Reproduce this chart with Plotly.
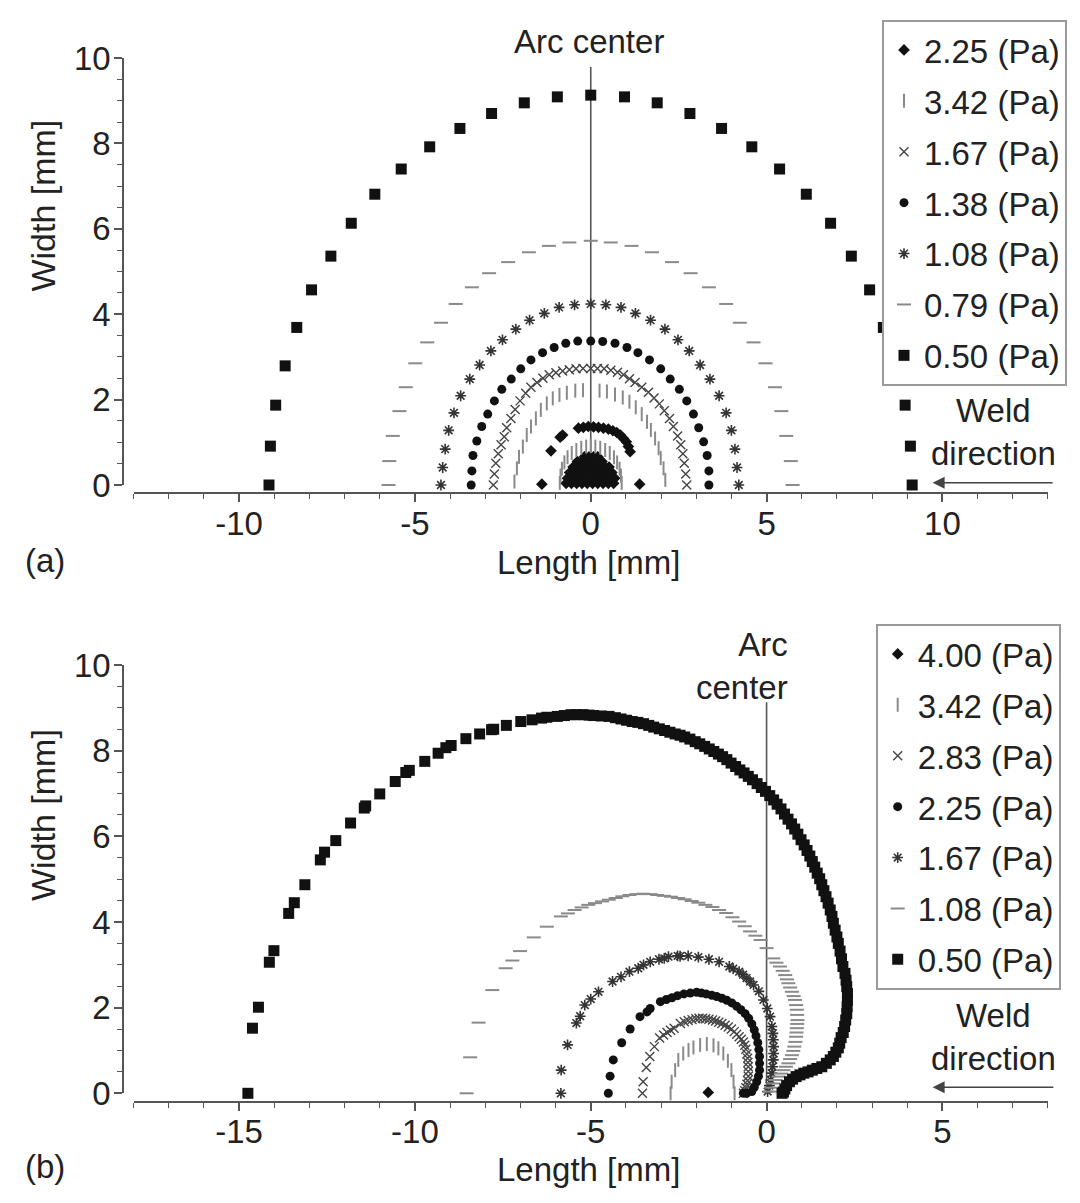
import plotly.graph_objects as go

W, H = 1080, 1203
FONT = "Liberation Sans, Arial, sans-serif"
TXT = "#222222"
AXC = "#555555"
FS = 33

# ---------------- Panel (a) data ----------------
a_p225_x = [-1.39, -1.13, -0.87, -0.80, -0.35, -0.21, -0.07, 0.08, 0.22, 0.36, 0.50, 0.63, 0.74, 0.84, 0.93, 1.01, 1.07, 1.12, 1.39,
            -0.70, -0.55, -0.40, -0.25, -0.10, 0.05, 0.20, 0.35, 0.50, 0.65,
            -0.66, -0.51, -0.36, -0.21, -0.06, 0.09, 0.24, 0.39, 0.54, 0.68,
            -0.60, -0.45, -0.30, -0.15, 0.00, 0.15, 0.30, 0.45, 0.60,
            -0.50, -0.35, -0.20, -0.05, 0.10, 0.25, 0.40, 0.52,
            -0.38, -0.24, -0.10, 0.04, 0.18, 0.32,
            -0.18, -0.05, 0.08, 0.20]
a_p225_y = [0.02, 0.80, 1.12, 1.17, 1.33, 1.35, 1.37, 1.36, 1.35, 1.33, 1.31, 1.27, 1.23, 1.17, 1.09, 1.01, 0.90, 0.78, 0.02,
            0.04, 0.04, 0.04, 0.04, 0.04, 0.04, 0.04, 0.04, 0.04, 0.04,
            0.16, 0.16, 0.16, 0.16, 0.16, 0.16, 0.16, 0.16, 0.16, 0.16,
            0.29, 0.29, 0.29, 0.29, 0.29, 0.29, 0.29, 0.29, 0.29,
            0.42, 0.42, 0.42, 0.42, 0.42, 0.42, 0.42, 0.42,
            0.55, 0.55, 0.55, 0.55, 0.55, 0.55,
            0.66, 0.66, 0.66, 0.66]

a_p342_x = [-2.17, -2.10, -2.04, -1.93, -1.82, -1.70, -1.56, -1.42, -1.25, -1.08, -0.89, -0.68, -0.44, -0.22,
            0.25, 0.46, 0.69, 0.91, 1.10, 1.28, 1.45, 1.60, 1.71, 1.83, 1.93, 1.99, 2.07, 2.12,
            -0.88, -0.86, -0.82, -0.75, -0.66, -0.54, -0.41, -0.27, -0.13, 0.00, 0.13, 0.27, 0.41, 0.54, 0.66, 0.75, 0.82, 0.86, 0.88]
a_p342_y = [0.08, 0.39, 0.66, 0.90, 1.17, 1.37, 1.56, 1.76, 1.91, 2.03, 2.11, 2.16, 2.21, 2.22,
            2.21, 2.19, 2.12, 2.05, 1.95, 1.82, 1.66, 1.48, 1.29, 1.09, 0.86, 0.63, 0.39, 0.12,
            0.05, 0.22, 0.38, 0.53, 0.65, 0.75, 0.82, 0.87, 0.90, 0.91, 0.90, 0.87, 0.82, 0.75, 0.65, 0.53, 0.38, 0.22, 0.05]

a_p167_x = [-2.77, -2.74, -2.70, -2.63, -2.55, -2.46, -2.39, -2.27, -2.15, -2.01, -1.85, -1.70, -1.53, -1.36, -1.18, -0.99, -0.80, -0.61, -0.42, -0.22, 0.00,
            0.19, 0.38, 0.57, 0.76, 0.93, 1.10, 1.26, 1.45, 1.64, 1.80, 1.95, 2.09, 2.24, 2.35, 2.47, 2.56, 2.62, 2.66, 2.70, 2.73]
a_p167_y = [0.00, 0.26, 0.51, 0.73, 0.94, 1.13, 1.34, 1.56, 1.77, 1.97, 2.15, 2.29, 2.40, 2.50, 2.58, 2.63, 2.67, 2.70, 2.72, 2.73, 2.73,
            2.73, 2.72, 2.69, 2.64, 2.58, 2.49, 2.40, 2.29, 2.17, 2.04, 1.90, 1.74, 1.56, 1.37, 1.15, 0.94, 0.73, 0.51, 0.26, 0.00]

a_p138_x = [-3.40, -3.38, -3.35, -3.24, -3.10, -2.93, -2.74, -2.53, -2.26, -1.99, -1.70, -1.37, -1.04, -0.71, -0.37, 0.00,
            0.34, 0.69, 1.03, 1.34, 1.67, 1.99, 2.26, 2.52, 2.73, 2.92, 3.07, 3.21, 3.31, 3.36, 3.36]
a_p138_y = [0.00, 0.33, 0.69, 1.03, 1.37, 1.66, 1.97, 2.24, 2.48, 2.72, 2.93, 3.10, 3.22, 3.32, 3.37, 3.37,
            3.36, 3.32, 3.22, 3.10, 2.93, 2.72, 2.48, 2.24, 1.97, 1.66, 1.34, 1.01, 0.69, 0.33, 0.00]

a_p108_x = [-4.26, -4.21, -4.14, -4.04, -3.89, -3.70, -3.44, -3.16, -2.84, -2.51, -2.13, -1.74, -1.32, -0.90, -0.46, 0.00,
            0.43, 0.86, 1.27, 1.70, 2.11, 2.48, 2.80, 3.11, 3.39, 3.65, 3.85, 4.00, 4.10, 4.16, 4.21]
a_p108_y = [0.00, 0.41, 0.84, 1.28, 1.69, 2.09, 2.48, 2.81, 3.14, 3.40, 3.65, 3.86, 4.02, 4.16, 4.22, 4.24,
            4.22, 4.16, 4.02, 3.86, 3.65, 3.40, 3.14, 2.81, 2.48, 2.09, 1.69, 1.28, 0.84, 0.41, 0.00]

a_p079_x = [-5.75, -5.73, -5.63, -5.44, -5.26, -4.99, -4.65, -4.26, -3.84, -3.38, -2.89, -2.35, -1.76, -1.19, -0.61, 0.00,
            0.57, 1.16, 1.74, 2.31, 2.84, 3.36, 3.85, 4.24, 4.63, 4.97, 5.24, 5.42, 5.56, 5.69, 5.74]
a_p079_y = [0.00, 0.56, 1.15, 1.73, 2.29, 2.85, 3.34, 3.80, 4.24, 4.63, 4.96, 5.22, 5.45, 5.60, 5.68, 5.72,
            5.68, 5.60, 5.45, 5.22, 4.96, 4.63, 4.24, 3.80, 3.34, 2.85, 2.29, 1.73, 1.15, 0.56, 0.00]

a_p050_x = [-9.15, -9.11, -8.96, -8.69, -8.36, -7.94, -7.39, -6.81, -6.14, -5.39, -4.58, -3.72, -2.82, -1.89, -0.95, 0.00,
            0.96, 1.89, 2.82, 3.72, 4.58, 5.37, 6.13, 6.82, 7.41, 7.93, 8.32, 8.66, 8.94, 9.09, 9.14]
a_p050_y = [0.00, 0.91, 1.87, 2.79, 3.69, 4.57, 5.36, 6.13, 6.81, 7.40, 7.92, 8.35, 8.70, 8.95, 9.09, 9.13,
            9.09, 8.95, 8.70, 8.35, 7.92, 7.40, 6.81, 6.13, 5.36, 4.57, 3.69, 2.79, 1.87, 0.91, 0.00]

# ---------------- Panel (b) data ----------------
b_p400_x = [-1.66]
b_p400_y = [0.02]

b_p342_x = [-2.73, -2.70, -2.60, -2.51, -2.37, -2.22, -2.08, -1.89, -1.70, -1.51, -1.37, -1.23, -1.10, -1.00, -0.94, -0.91]
b_p342_y = [0.00, 0.27, 0.54, 0.78, 0.93, 1.01, 1.07, 1.13, 1.15, 1.12, 1.05, 0.93, 0.76, 0.54, 0.27, 0.00]

b_p283_x = [-3.53, -3.51, -3.42, -3.32, -3.19, -3.04, -2.93, -2.83, -2.73, -2.63, -2.45, -2.34, -2.23, -2.12, -2.01, -1.92,
            -1.82, -1.73, -1.64, -1.54, -1.45, -1.36, -1.27, -1.18, -1.09, -1.00, -0.92, -0.85, -0.78, -0.72, -0.66, -0.62,
            -0.59, -0.56, -0.54, -0.53, -0.52, -0.52, -0.52, -0.54, -0.56, -0.59, -0.62, -0.66]
b_p283_y = [0.00, 0.27, 0.60, 0.86, 1.09, 1.29, 1.36, 1.42, 1.47, 1.52, 1.63, 1.67, 1.70, 1.72, 1.74, 1.75,
            1.75, 1.74, 1.73, 1.71, 1.69, 1.66, 1.63, 1.59, 1.55, 1.50, 1.44, 1.38, 1.32, 1.26, 1.20, 1.12,
            1.03, 0.92, 0.82, 0.72, 0.62, 0.51, 0.40, 0.30, 0.21, 0.13, 0.06, 0.00]

b_p225_x = [-4.50, -4.45, -4.36, -4.12, -3.88, -3.60, -3.40, -3.31, -3.02, -2.85, -2.69, -2.53, -2.35, -2.17, -1.99,
            -1.85, -1.72, -1.56, -1.42, -1.27, -1.13, -0.99, -0.85, -0.73, -0.61, -0.51, -0.42, -0.35, -0.30, -0.25,
            -0.22, -0.20, -0.20, -0.20, -0.23, -0.28, -0.35, -0.42, -0.57, -0.66]
b_p225_y = [0.00, 0.40, 0.78, 1.18, 1.50, 1.79, 1.90, 1.98, 2.14, 2.19, 2.23, 2.28, 2.32, 2.34, 2.36,
            2.34, 2.32, 2.29, 2.26, 2.22, 2.17, 2.11, 2.03, 1.95, 1.86, 1.75, 1.62, 1.48, 1.34, 1.18,
            1.02, 0.86, 0.70, 0.54, 0.40, 0.27, 0.14, 0.04, 0.00, 0.00]

b_p167_x = [-5.85, -5.84, -5.66, -5.41, -5.30, -5.17, -5.00, -4.78, -4.38, -4.14, -3.90, -3.65, -3.50, -3.31, -3.06, -2.91,
            -2.79, -2.53, -2.46, -2.23, -1.94, -1.64, -1.35, -1.06, -0.95, -0.78, -0.67, -0.57, -0.47, -0.37, -0.22, -0.09,
            0.02, 0.10, 0.15, 0.18, 0.19, 0.20, 0.20, 0.19, 0.17, 0.15, 0.12, 0.08, 0.03]
b_p167_y = [0.00, 0.54, 1.13, 1.64, 1.80, 2.06, 2.20, 2.37, 2.61, 2.72, 2.84, 2.92, 3.00, 3.07, 3.13, 3.15,
            3.19, 3.21, 3.20, 3.21, 3.18, 3.13, 3.07, 2.96, 2.91, 2.84, 2.77, 2.69, 2.61, 2.53, 2.38, 2.18,
            1.98, 1.79, 1.56, 1.40, 1.25, 1.09, 0.93, 0.78, 0.62, 0.47, 0.31, 0.18, 0.04]

b_p108_x = [-8.53, -8.43, -8.19, -7.80, -7.42, -7.23, -7.01, -6.62, -6.25, -5.85, -5.65, -5.46, -5.26, -5.07, -4.88, -4.68,
            -4.49, -4.29, -4.10, -3.90, -3.70, -3.50, -3.30, -3.11, -2.92, -2.72, -2.52, -2.33, -2.13, -1.94, -1.74, -1.54,
            -1.35, -1.15, -0.97, -0.78, -0.62, -0.47, -0.32, -0.17, 0.00, 0.19, 0.28, 0.38, 0.46, 0.53, 0.58, 0.62,
            0.67, 0.72, 0.77, 0.81, 0.84, 0.86, 0.87, 0.88, 0.87, 0.86, 0.85, 0.84, 0.82, 0.79, 0.76, 0.72, 0.67, 0.62,
            0.55, 0.48, 0.41, 0.34, 0.26, 0.19, 0.14, 0.10]
b_p108_y = [0.00, 0.84, 1.65, 2.41, 2.92, 3.10, 3.32, 3.64, 3.89, 4.13, 4.20, 4.28, 4.34, 4.40, 4.44, 4.48,
            4.52, 4.56, 4.60, 4.63, 4.65, 4.66, 4.65, 4.63, 4.61, 4.59, 4.56, 4.53, 4.49, 4.45, 4.40, 4.35,
            4.28, 4.21, 4.11, 4.01, 3.90, 3.78, 3.68, 3.58, 3.39, 3.15, 3.05, 2.96, 2.86, 2.76, 2.66, 2.57,
            2.47, 2.37, 2.27, 2.18, 2.06, 1.95, 1.83, 1.71, 1.62, 1.52, 1.42, 1.32, 1.20, 1.09, 0.99, 0.89, 0.80, 0.70,
            0.62, 0.54, 0.46, 0.39, 0.31, 0.23, 0.13, 0.04]

b_p050_x = [-14.75, -14.62, -14.45, -14.14, -14.01, -13.59, -13.43, -13.13, -12.69, -12.57, -12.25, -11.83, -11.44, -11.40,
            -11.00, -10.56, -10.26, -10.16, -9.72, -9.34, -9.12, -8.97, -8.55, -8.16, -7.82, -7.76, -7.40, -6.99, -6.67,
            -6.40, -6.25, -5.95, -5.75, -5.56, -5.40, -5.22, -5.05, -4.92, -4.70, -4.48, -4.30, -4.14, -3.98, -3.82,
            -3.66, -3.50, -3.35, -3.21, -3.05, -2.90, -2.75, -2.60, -2.46, -2.33, -2.18, -2.03, -1.90, -1.76, -1.63,
            -1.50, -1.37, -1.25, -1.13, -1.01, -0.88, -0.76, -0.64, -0.52, -0.40, -0.27, -0.15, -0.03, 0.09, 0.20,
            0.30, 0.41, 0.51, 0.61, 0.71, 0.80, 0.89, 0.98, 1.07, 1.15, 1.23, 1.30, 1.37, 1.44, 1.51, 1.57, 1.63,
            1.69, 1.75, 1.81, 1.86, 1.90, 1.95, 2.00, 2.04, 2.09, 2.13, 2.17, 2.23, 2.26, 2.28, 2.30, 2.30, 2.29,
            2.28, 2.25, 2.22, 2.18, 2.12, 2.08, 2.04, 1.97, 1.90, 1.81, 1.70, 1.57, 1.43, 1.30, 1.18, 1.06, 0.95,
            0.84, 0.74, 0.65, 0.57, 0.52, 0.48, 0.44, 0.40]
b_p050_y = [0.00, 1.52, 2.01, 3.06, 3.33, 4.20, 4.45, 4.87, 5.45, 5.63, 5.90, 6.31, 6.66, 6.71,
            6.99, 7.28, 7.49, 7.54, 7.75, 7.94, 8.07, 8.12, 8.28, 8.39, 8.49, 8.50, 8.59, 8.68, 8.72,
            8.76, 8.78, 8.80, 8.82, 8.84, 8.84, 8.84, 8.83, 8.82, 8.81, 8.80, 8.77, 8.74, 8.71, 8.68,
            8.66, 8.63, 8.59, 8.55, 8.51, 8.47, 8.43, 8.39, 8.36, 8.32, 8.27, 8.21, 8.16, 8.10, 8.04,
            7.98, 7.92, 7.86, 7.79, 7.71, 7.63, 7.55, 7.48, 7.40, 7.32, 7.23, 7.14, 7.05, 6.95, 6.85,
            6.75, 6.64, 6.52, 6.40, 6.29, 6.17, 6.05, 5.92, 5.80, 5.67, 5.54, 5.41, 5.28, 5.14, 5.01, 4.87,
            4.73, 4.59, 4.44, 4.28, 4.13, 3.97, 3.81, 3.65, 3.50, 3.32, 3.14, 2.96, 2.80, 2.64, 2.49, 2.33,
            2.17, 2.02, 1.86, 1.71, 1.56, 1.42, 1.30, 1.17, 1.06, 0.96, 0.86, 0.78, 0.70, 0.62, 0.58, 0.54, 0.50,
            0.47, 0.43, 0.39, 0.33, 0.27, 0.18, 0.10, 0.03, 0.00]

a_names = ["2.25 (Pa)", "3.42 (Pa)", "1.67 (Pa)", "1.38 (Pa)", "1.08 (Pa)", "0.79 (Pa)", "0.50 (Pa)"]
b_names = ["4.00 (Pa)", "3.42 (Pa)", "2.83 (Pa)", "2.25 (Pa)", "1.67 (Pa)", "1.08 (Pa)", "0.50 (Pa)"]

# tick labels (hyphen-minus as in the reference)
a_xticks = [-10, -5, 0, 5, 10]
a_xlabels = ["-10", "-5", "0", "5", "10"]
b_xticks = [-15, -10, -5, 0, 5]
b_xlabels = ["-15", "-10", "-5", "0", "5"]
yticks = [0, 2, 4, 6, 8, 10]
ylabels = ["0", "2", "4", "6", "8", "10"]

# marker styles keyed by symbol kind
STY = {
    "diamond": dict(symbol="diamond", size=9, color="#111111", line=dict(width=0)),
    "vline": dict(symbol="line-ns-open", size=10, color="#8a8a8a", line=dict(width=2, color="#8a8a8a")),
    "x": dict(symbol="x-thin-open", size=9, color="#444444", line=dict(width=1.4, color="#444444")),
    "circle": dict(symbol="circle", size=9, color="#111111", line=dict(width=0)),
    "star": dict(symbol="asterisk-open", size=9, color="#333333", line=dict(width=1.6, color="#333333")),
    "hline": dict(symbol="line-ew-open", size=10, color="#8a8a8a", line=dict(width=2, color="#8a8a8a")),
    "square": dict(symbol="square", size=11, color="#111111", line=dict(width=0)),
}

a_series = [(a_p225_x, a_p225_y, "diamond"), (a_p342_x, a_p342_y, "vline"), (a_p167_x, a_p167_y, "x"),
            (a_p138_x, a_p138_y, "circle"), (a_p108_x, a_p108_y, "star"), (a_p079_x, a_p079_y, "hline"),
            (a_p050_x, a_p050_y, "square")]
b_series = [(b_p400_x, b_p400_y, "diamond"), (b_p342_x, b_p342_y, "vline"), (b_p283_x, b_p283_y, "x"),
            (b_p225_x, b_p225_y, "circle"), (b_p167_x, b_p167_y, "star"), (b_p108_x, b_p108_y, "hline"),
            (b_p050_x, b_p050_y, "square")]

fig = go.Figure()
for i, ((xs, ys, st), nm) in enumerate(zip(a_series, a_names)):
    fig.add_trace(go.Scatter(x=xs, y=ys, mode="markers", name=nm, marker=STY[st], cliponaxis=False,
                             xaxis="x", yaxis="y", legend="legend", legendgroup="a%d" % i))
for i, ((xs, ys, st), nm) in enumerate(zip(b_series, b_names)):
    fig.add_trace(go.Scatter(x=xs, y=ys, mode="markers", name=nm, marker=STY[st], cliponaxis=False,
                             xaxis="x2", yaxis="y2", legend="legend2", legendgroup="b%d" % i))

XDOM = [133.6 / W, 1047.9 / W]
YPOS = 123.3 / W


def xax(rng, pos, tv, tt):
    return dict(domain=XDOM, range=rng, anchor="free", position=pos, automargin=False,
                showline=True, linecolor=AXC, linewidth=2,
                ticks="outside", ticklen=8, tickwidth=1.6, tickcolor=AXC,
                tickmode="array", tickvals=tv, ticktext=tt, ticklabelstandoff=-7,
                minor=dict(tickmode="linear", tick0=0, dtick=1, ticks="outside", ticklen=5, tickwidth=1.4,
                           tickcolor=AXC, showgrid=False),
                showgrid=False, zeroline=False, tickfont=dict(family=FONT, size=FS, color=TXT))


def yax(dom):
    return dict(domain=dom, range=[0, 10], anchor="free", position=YPOS, automargin=False,
                showline=True, linecolor=AXC, linewidth=2,
                ticks="outside", ticklen=8, tickwidth=1.6, tickcolor=AXC,
                tickmode="array", tickvals=yticks, ticktext=ylabels, ticklabelstandoff=-3,
                minor=dict(tickmode="linear", tick0=0, dtick=0.5, ticks="outside", ticklen=5, tickwidth=1.4,
                           tickcolor=AXC, showgrid=False),
                showgrid=False, zeroline=False, tickfont=dict(family=FONT, size=FS, color=TXT))


def P(px, py):
    return px / W, 1 - py / H


def ann(text, px, py, xanchor="center", angle=0, size=FS, align="center"):
    x, y = P(px, py)
    return dict(text=text, x=x, y=y, xref="paper", yref="paper", showarrow=False, xanchor=xanchor,
                yanchor="middle", textangle=angle, align=align, font=dict(family=FONT, size=size, color=TXT))


def arrow(px_head, px_tail, py):
    x, y = P(px_head, py)
    return dict(text="", x=x, y=y, xref="paper", yref="paper", ax=px_tail - px_head, ay=0,
                axref="pixel", ayref="pixel", showarrow=True, arrowhead=2, arrowsize=1.5, arrowwidth=1.6,
                arrowcolor="#444444", standoff=0, startstandoff=0)


legend_common = dict(xanchor="left", yanchor="top", bordercolor="#9a9a9a", borderwidth=2, bgcolor="white",
                     font=dict(family=FONT, size=FS, color=TXT), tracegroupgap=5.0, itemclick=False)

fig.update_layout(
    width=W, height=H, autosize=False, margin=dict(l=0, r=0, t=0, b=0, autoexpand=False),
    paper_bgcolor="white", plot_bgcolor="white",
    font=dict(family=FONT, size=FS, color=TXT),
    xaxis=xax([-13, 13], 1 - 493.3 / H, a_xticks, a_xlabels),
    yaxis=yax([1 - 485 / H, 1 - 58 / H]),
    xaxis2=xax([-18, 8], 1 - 1101.7 / H, b_xticks, b_xlabels),
    yaxis2=yax([1 - 1093.3 / H, 1 - 665 / H]),
    legend=dict(x=882 / W, y=1 - 20 / H, **legend_common),
    legend2=dict(x=875.7 / W, y=1 - 624 / H, **legend_common),
    shapes=[
        dict(type="line", xref="x", yref="y", x0=0, x1=0, y0=0, y1=9.79, line=dict(color=AXC, width=1.6), layer="below"),
        dict(type="line", xref="x2", yref="y2", x0=0, x1=0, y0=0, y1=9.13, line=dict(color=AXC, width=1.6), layer="below"),
    ],
    annotations=[
        ann("Arc center", 589.4, 41.7),
        ann("Arc<br>center", 789.7, 665.5, xanchor="right", align="right"),
        ann("Weld<br>direction", 993.7, 431.7),
        ann("Weld<br>direction", 993.7, 1036.5),
        arrow(932.6, 1054.1, 482.7), arrow(932.6, 1054.8, 1087.3),
        ann("(a)", 44.8, 560), ann("(b)", 44.8, 1166.7),
        ann("Length [mm]", 588.5, 562), ann("Length [mm]", 588.5, 1169),
        ann("Width [mm]", 43, 205.6, angle=-90, size=34), ann("Width [mm]", 43, 815, angle=-90, size=34),
    ],
)

fig.write_html("out.html")
